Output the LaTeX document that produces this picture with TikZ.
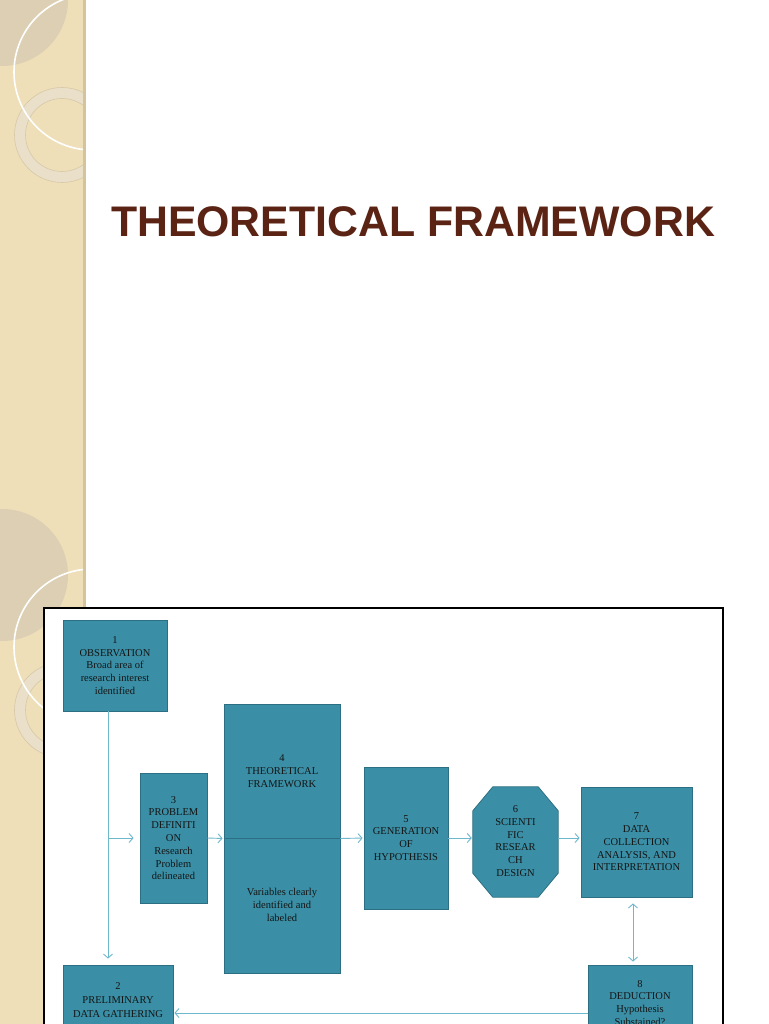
\documentclass[tikz,border=0pt]{standalone}
\usepackage{fontspec}
\setmainfont{Liberation Serif}
\newfontfamily\titlefont{Liberation Sans}
\usetikzlibrary{arrows.meta}
\definecolor{tealfill}{HTML}{3A8FA6}
\definecolor{tealdark}{HTML}{2D6F82}
\definecolor{connc}{HTML}{6DB8CC}
\definecolor{boxtext}{HTML}{141414}
\definecolor{beige}{HTML}{EFDFB8}
\definecolor{greyc}{HTML}{DCCFB3}
\definecolor{ringc}{HTML}{EAE0C9}
\definecolor{ringedge}{HTML}{D6C8A8}
\definecolor{edgec}{HTML}{D4C49C}
\definecolor{titlec}{HTML}{5A2314}
\tikzset{
  box/.style={draw=tealdark, fill=tealfill, line width=0.8pt, inner sep=0pt,
    align=center, text=boxtext, font=\fontsize{10.5}{12.8}\selectfont},
  boxtxt/.style={inner sep=0pt, align=center, text=boxtext,
    font=\fontsize{10.5}{12.8}\selectfont},
  conn/.style={draw=connc, line width=0.9pt, -{Straight Barb[length=4pt,width=9pt]}},
  dconn/.style={draw=connc, line width=0.9pt, {Straight Barb[length=4pt,width=9pt]}-{Straight Barb[length=4pt,width=9pt]}}
}
\begin{document}
\begin{tikzpicture}[x=1pt,y=-1pt]
\useasboundingbox (0,0) rectangle (768,1024);
\begin{scope}
\clip (0,0) rectangle (768,1024);
\fill[white] (0,0) rectangle (768,1024);
% left decorative strip
\fill[beige] (0,0) rectangle (84,1024);
\begin{scope}
\clip (0,0) rectangle (84,1024);
\foreach \dy in {0,575}{
  \fill[greyc] (2,\dy) circle (66pt);
  \draw[ringc, line width=11pt] (62,135+\dy) circle (42pt);
  \draw[ringedge, line width=0.6pt] (62,135+\dy) circle (47.5pt);
  \draw[ringedge, line width=0.6pt] (62,135+\dy) circle (36.5pt);
  \draw[white, line width=1.6pt] (92,72+\dy) circle (78pt);
}
\end{scope}
\fill[edgec] (82.5,0) rectangle (85.5,1024);
% title
\node[font=\titlefont\bfseries\fontsize{42.8}{50}\selectfont, text=titlec] (title) at (413,222) {THEORETICAL FRAMEWORK};
% frame
\draw[black, line width=2pt, fill=white] (44,608) rectangle (723,1060);
% boxes
\node[box, minimum width=104pt, minimum height=91pt] (n1) at (115,665.5)
  {1\\OBSERVATION\\Broad area of\\research interest\\identified};
\node[box, minimum width=67pt, minimum height=130pt] (n3) at (173.5,838)
  {3\\PROBLEM\\DEFINITI\\ON\\Research\\Problem\\delineated};
\node[box, minimum width=116pt, minimum height=269pt] (n4) at (282,838.5) {};
\node[boxtxt] (n4a) at (282,771) {4\\THEORETICAL\\FRAMEWORK};
\node[boxtxt] (n4b) at (282,905) {Variables clearly\\identified and\\labeled};
\node[box, minimum width=84pt, minimum height=142pt] (n5) at (406,838)
  {5\\GENERATION\\OF\\HYPOTHESIS};
\node[inner sep=0pt, minimum width=85pt, minimum height=110pt] (n6) at (515.5,842) {};
\draw[draw=tealdark, fill=tealfill, line width=0.8pt]
  ([xshift=20pt]n6.north west) -- ([xshift=-20pt]n6.north east)
  -- ([yshift=-24pt]n6.north east) -- ([yshift=24pt]n6.south east)
  -- ([xshift=-20pt]n6.south east) -- ([xshift=20pt]n6.south west)
  -- ([yshift=24pt]n6.south west) -- ([yshift=-24pt]n6.north west) -- cycle;
\node[boxtxt] (n6t) at (515.5,841) {6\\SCIENTI\\FIC\\RESEAR\\CH\\DESIGN};
\node[box, minimum width=111pt, minimum height=110pt] (n7) at (636.5,842)
  {7\\DATA\\COLLECTION\\ANALYSIS, AND\\INTERPRETATION};
\node[box, minimum width=104pt, minimum height=95pt] (n8) at (640,1012.5) {};
\node[boxtxt, anchor=north] (n8t) at (640,980) {8\\DEDUCTION\\Hypothesis\\Substained?};
\node[box, minimum width=110pt, minimum height=95pt] (n2) at (118,1012.5) {};
\node[boxtxt, anchor=north, font=\fontsize{10.5}{14}\selectfont] (n2t) at (118,982) {2\\PRELIMINARY\\DATA GATHERING\\Interviewing};
% connectors
\coordinate (trunk) at (108,838);
\coordinate (dd) at (633,900);
\coordinate (bot) at (400,1013);
\draw[conn, shorten >=6pt] (n1.south -| trunk) -- (n2.north -| trunk);
\draw[conn, shorten >=6pt] (trunk) -- (n3.west);
\draw[conn, shorten >=1pt] (n3.east) -- (n4.west);
\draw[tealdark, line width=1pt] (n4.west) -- (n4.east);
\draw[conn, shorten >=1pt] (n4.east) -- (n5.west);
\draw[conn, shorten >=1pt] (n5.east) -- (n6.west |- n5.east);
\draw[conn, shorten >=1pt] (n6.east |- n5.east) -- (n7.west |- n5.east);
\draw[dconn, shorten <=6pt, shorten >=3pt] (n7.south -| dd) -- (n8.north -| dd);
\draw[conn, shorten >=1pt] (n8.west |- bot) -- (n2.east |- bot);
\end{scope}
\end{tikzpicture}
\end{document}
